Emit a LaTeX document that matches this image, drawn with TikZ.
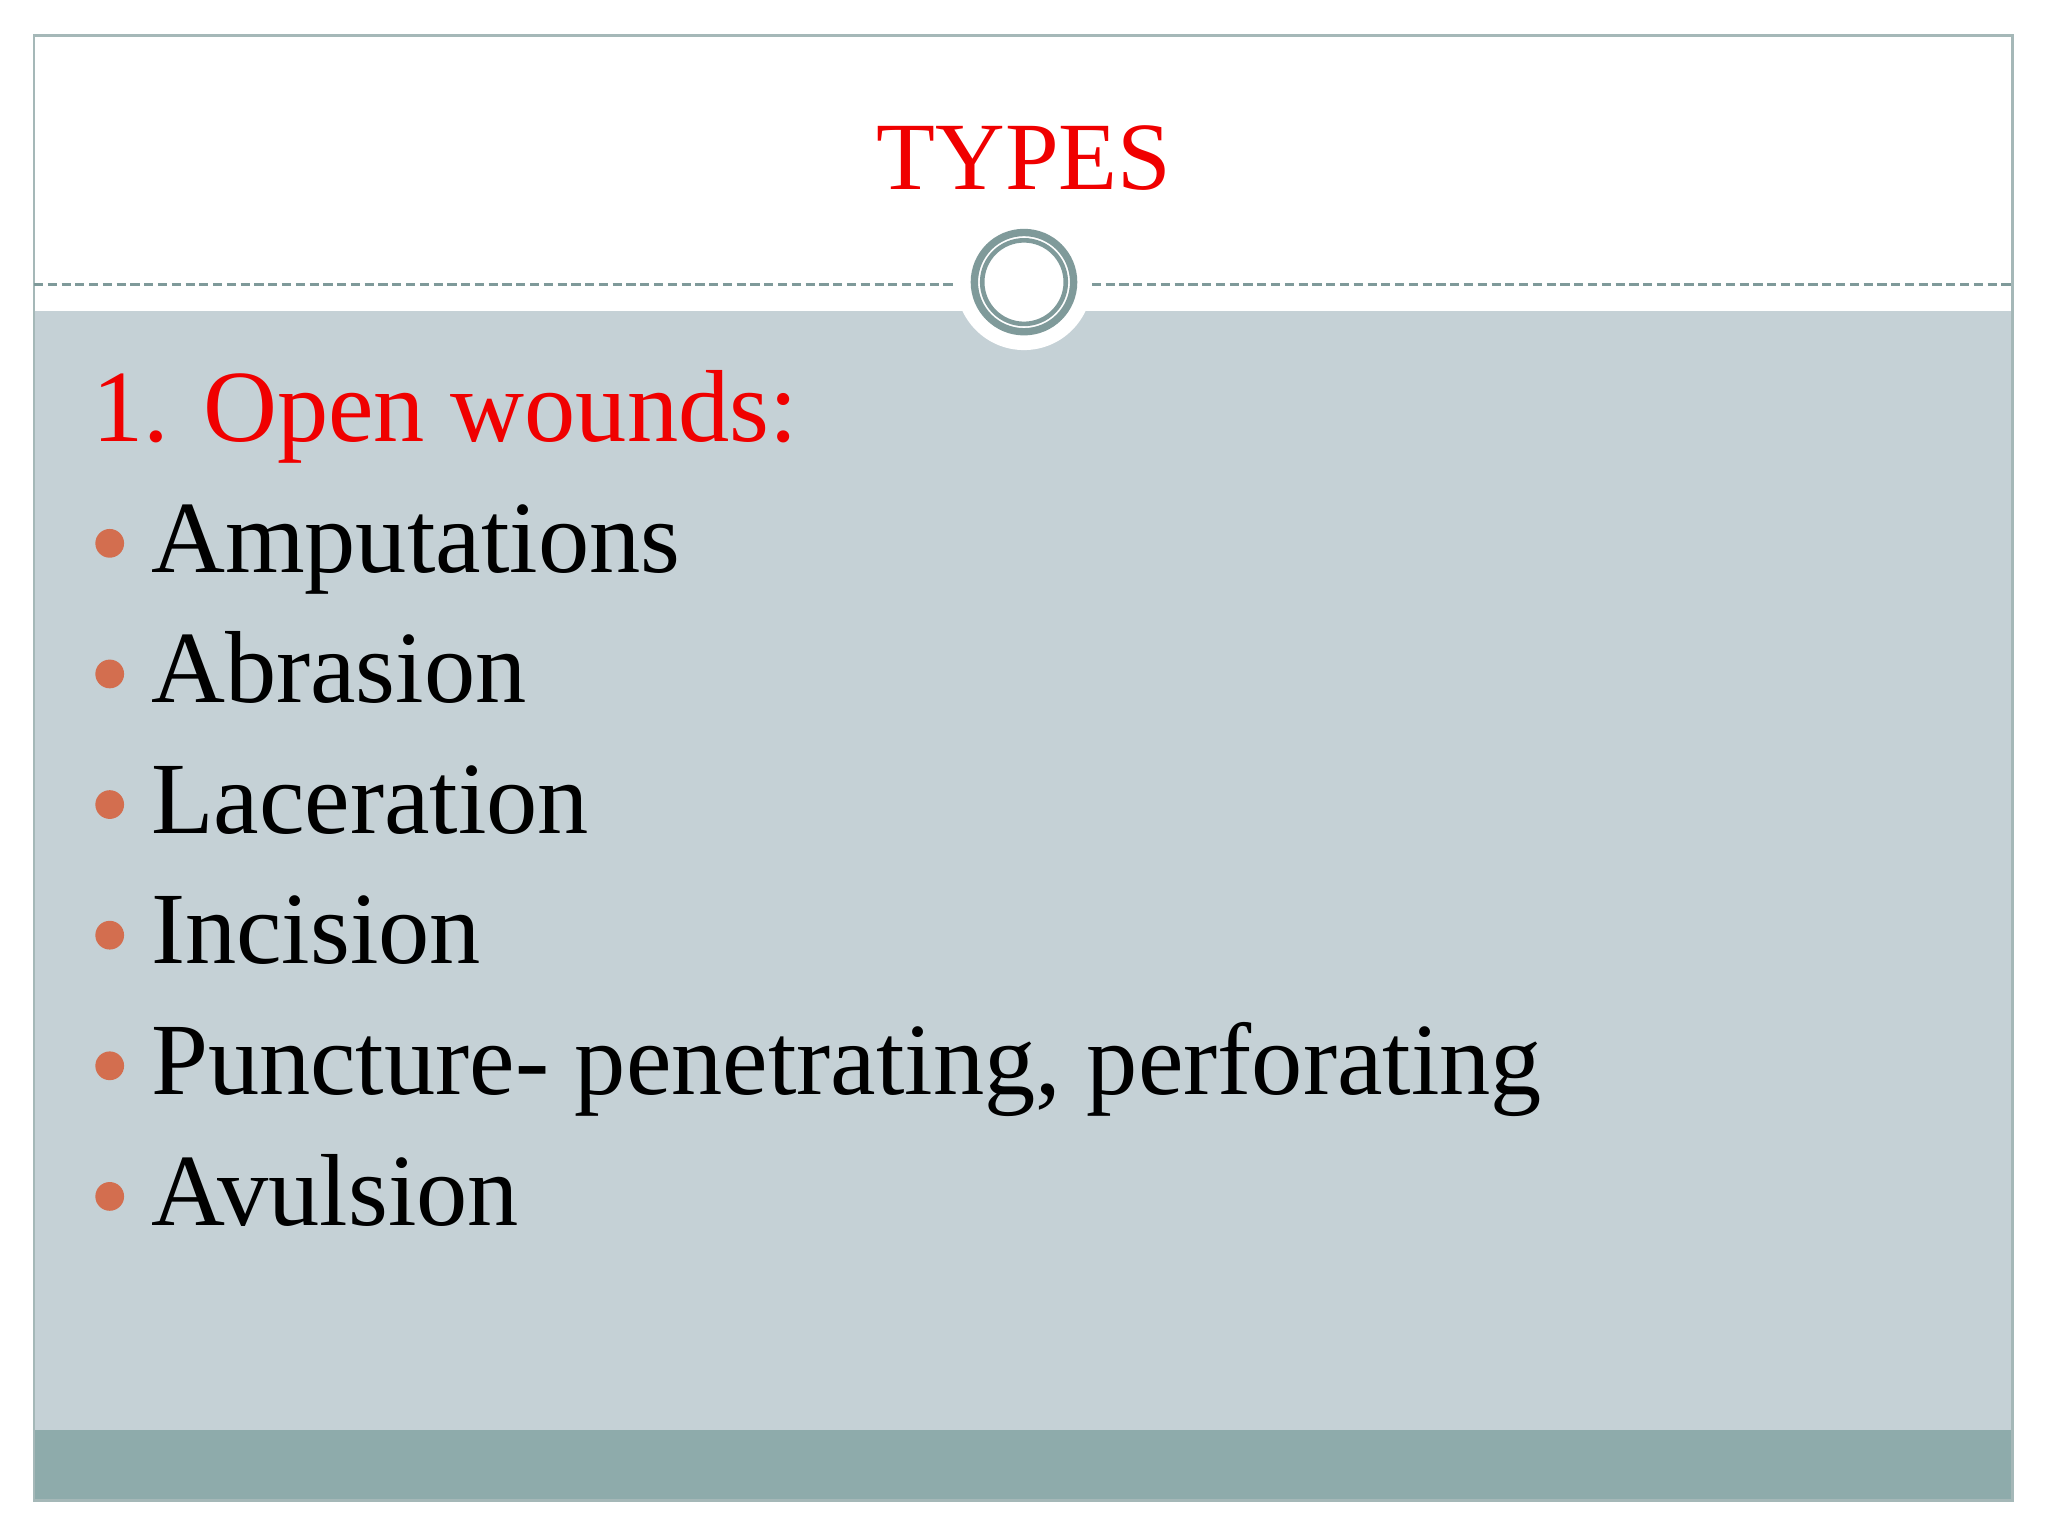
\documentclass[tikz,border=0pt]{standalone}
\usepackage{fontspec}
\setmainfont{Liberation Serif}
\definecolor{panel}{HTML}{C5D1D6}
\definecolor{band}{HTML}{8EABAB}
\definecolor{ring}{HTML}{7F9A9A}
\definecolor{bul}{HTML}{D36E4F}
\definecolor{tred}{HTML}{F00000}
\begin{document}
\begin{tikzpicture}[x=0.01cm,y=-0.01cm,
  item/.style={anchor=base west,inner sep=0,font=\fontsize{22.3pt}{26pt}\selectfont},
  dot/.style={circle,fill=bul,minimum size=0.22cm,inner sep=0}]
\useasboundingbox (0,0) rectangle (1568,1176);
\fill[white] (0,0) rectangle (1568,1176);
\fill[panel] (26,238) rectangle (1541,1095);
\fill[band] (26,1095) rectangle (1541,1149);
\draw[ring!70,line width=0.6pt] (26,27) rectangle (1541,1149);
\draw[ring,dash pattern=on 2pt off 1pt,line width=0.6pt] (26,218) -- (733,218);
\draw[ring,dash pattern=on 2pt off 1pt,line width=0.6pt] (836,218) -- (1541,218);
\node[circle,fill=white,minimum size=1.04cm,inner sep=0] (c) at (784,216) {};
\draw[ring,line width=1.6pt] (c.center) circle (38);
\draw[ring,line width=1pt] (c.center) circle (32);
\node[anchor=base,text=tred,inner sep=0,font=\fontsize{21pt}{24pt}\selectfont] (title) at (784,145) {TYPES};
\node[item,text=tred] (h) at (70,338) {1. Open wounds:};
\foreach \t [count=\i] in {Amputations,Abrasion,Laceration,Incision,{Puncture- penetrating, perforating},Avulsion}{
  \node[dot] (d\i) at (84,{438+100*(\i-1)-22}) {};
  \node[item] (t\i) at (115,{438+100*(\i-1)}) {\t};
}
\end{tikzpicture}
\end{document}
